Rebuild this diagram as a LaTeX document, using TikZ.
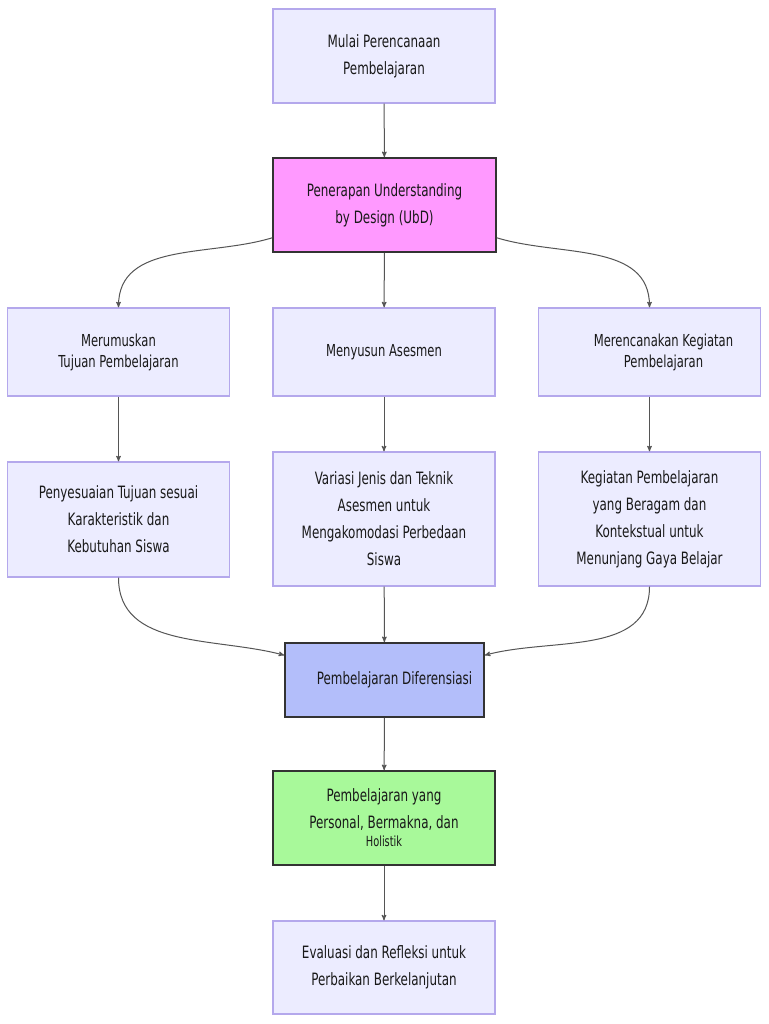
\documentclass[tikz,border=0pt]{standalone}
\usepackage{fontspec}
\setmainfont{DejaVu Sans Condensed}[FakeStretch=0.78]
\usetikzlibrary{arrows}
\definecolor{lav}{HTML}{ECECFF}
\definecolor{lavline}{HTML}{B4A8EC}
\definecolor{pinkbox}{HTML}{FF99FF}
\definecolor{bluebox}{HTML}{B3BEFA}
\definecolor{greenbox}{HTML}{A8F99A}
\definecolor{linegray}{HTML}{555555}

\begin{document}
\begin{tikzpicture} [x=1pt, y=-1pt,
  box/.style={draw=lavline, fill=lav, line width=1.2pt, minimum width=222pt, minimum height=94pt, inner sep=0pt, align=center, text=black!90, font=\fontsize{17}{27}\selectfont},
  hot/.style={box, draw=black!80, line width=1.6pt},
  plain/.style={font=\fontsize{16.5}{21}\selectfont},
  flow/.style={draw=linegray, line width=1pt, ->, >=stealth'}]
\useasboundingbox[fill=white] (0,0) rectangle (768,1024);
\node[box] (start) at (384,56) {Mulai Perencanaan\\Pembelajaran};
\node[hot, fill=pinkbox, minimum width=223pt] (ubd) at (384.5,205) {Penerapan Understanding\\by Design (UbD)};
\node[box, plain, minimum height=88pt] (tujuan) at (118.5,352) {Merumuskan\\Tujuan Pembelajaran};
\node[box, plain, minimum height=88pt] (asesmen) at (384,352) {Menyusun Asesmen};
\node[box, plain, minimum height=88pt] (kegiatan) at (649.5,352) {\hspace*{28pt}Merencanakan Kegiatan\\\hspace*{28pt}Pembelajaran};
\node[box, minimum height=115pt] (sesuai) at (118.5,519.5) {Penyesuaian Tujuan sesuai\\Karakteristik dan\\Kebutuhan Siswa};
\node[box, minimum height=134pt] (variasi) at (384,519) {Variasi Jenis dan Teknik\\Asesmen untuk\\Mengakomodasi Perbedaan\\Siswa};
\node[box, minimum height=134pt] (ragam) at (649.5,519) {Kegiatan Pembelajaran\\yang Beragam dan\\Kontekstual untuk\\Menunjang Gaya Belajar};
\node[hot, fill=bluebox, minimum width=199pt, minimum height=74pt] (dif) at (384.5,680) {\hspace*{20pt}Pembelajaran Diferensiasi};
\node[hot, fill=greenbox] (holistik) at (384,818) {Pembelajaran yang\\Personal, Bermakna, dan\\[-9pt]{\fontsize{14}{15}\selectfont Holistik}};
\node[box, minimum height=93pt] (evaluasi) at (384,967.5) {Evaluasi dan Refleksi untuk\\Perbaikan Berkelanjutan};
\draw[flow] (start) -- (ubd);
\draw[flow] ([yshift=15pt]ubd.south west) to[out=197, in=90] (tujuan.north);
\draw[flow] (ubd) -- (asesmen);
\draw[flow] ([yshift=15pt]ubd.south east) to[out=-17, in=90] (kegiatan.north);
\draw[flow] (tujuan) -- (sesuai);
\draw[flow] (asesmen) -- (variasi);
\draw[flow] (kegiatan) -- (ragam);
\draw[flow] (sesuai.south) to[out=-90, in=165] ([yshift=-13pt]dif.north west);
\draw[flow] (variasi) -- (dif);
\draw[flow] (ragam.south) to[out=-90, in=15] ([yshift=-13pt]dif.north east);
\draw[flow] (dif) -- (holistik);
\draw[flow] (holistik) -- (evaluasi);
\end{tikzpicture}
\end{document}
